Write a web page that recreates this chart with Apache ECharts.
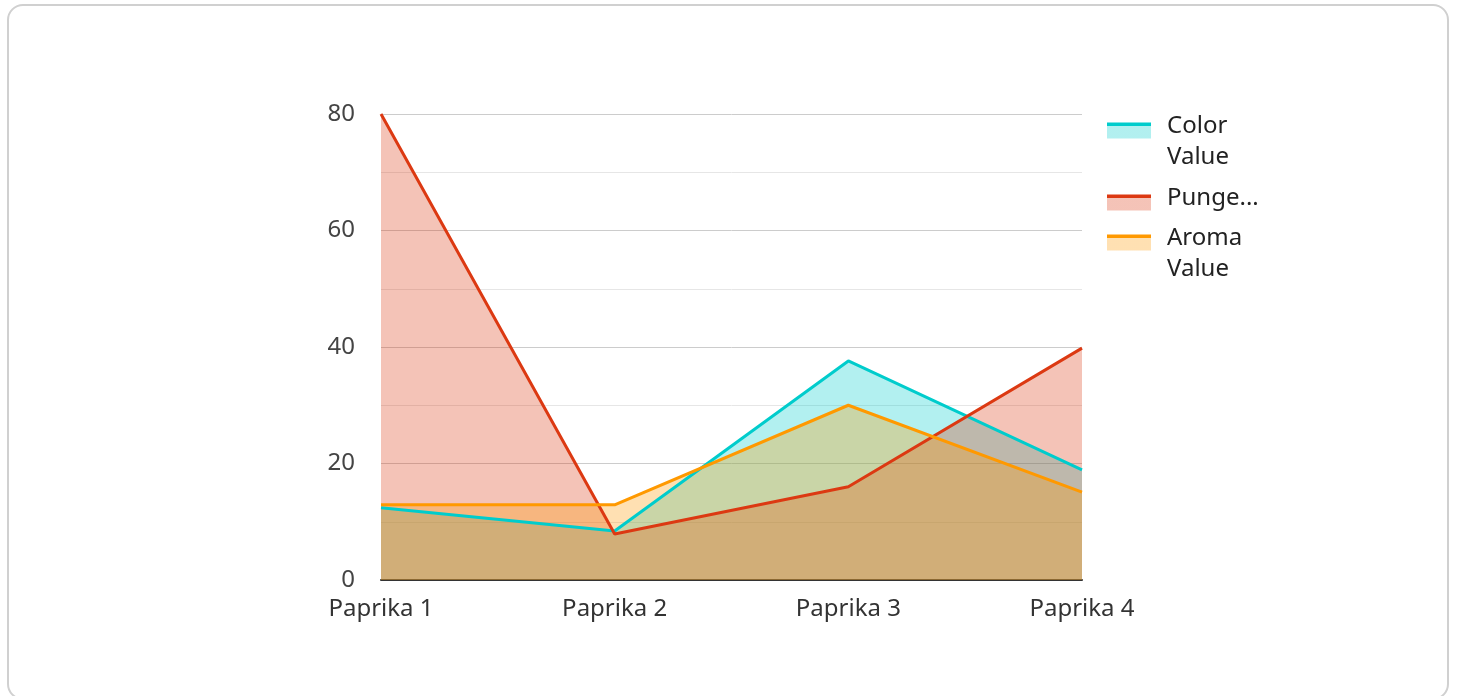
<!DOCTYPE html>
<html>
<head>
<meta charset="utf-8">
<script src="https://cdn.jsdelivr.net/npm/echarts@6/dist/echarts.min.js"></script>
<style>
html,body{margin:0;padding:0;background:#fff;}
#frame{position:absolute;left:7px;top:4px;width:1442px;height:696px;border:2px solid #d0d0d0;border-radius:16px;box-sizing:border-box;pointer-events:none;}
#chart{position:absolute;left:0;top:0;width:1458px;height:696px;}
</style>
</head>
<body>
<div id="chart"></div>
<div id="frame"></div>
<script>
const categories = ['Paprika 1', 'Paprika 2', 'Paprika 3', 'Paprika 4'];
const seriesNames = ['Color Value', 'Pungency Value', 'Aroma Value'];
const colorValue = [12.4, 8.4, 37.6, 18.9];
const pungencyValue = [80, 7.9, 16.0, 39.8];
const aromaValue = [12.9, 12.9, 30.0, 15.1];
const yTicks = [0, 20, 40, 60, 80];

const colors = ['#00CCCC', '#DC3912', '#FF9900'];
const fills = ['rgba(0,204,204,0.3)', 'rgba(220,57,18,0.3)', 'rgba(255,153,0,0.3)'];
const values = [colorValue, pungencyValue, aromaValue];
const font = "'Noto Sans', 'Open Sans', sans-serif";

function legendIcon(i) {
  return new echarts.graphic.LinearGradient(0, 0, 0, 1, [
    {offset: 0, color: colors[i]},
    {offset: 0.22, color: colors[i]},
    {offset: 0.22, color: fills[i]},
    {offset: 1, color: fills[i]}
  ]);
}

const legendTops = [88, 183, 200];
const legends = seriesNames.map((name, i) => {
  const two = i !== 1;
  return {
    left: 1107,
    top: legendTops[i],
    padding: 0,
    itemWidth: 55,
    itemHeight: 16,
    itemGap: 0,
    orient: 'vertical',
    selectedMode: false,
    icon: 'path://M0,0H44V16H0Z M55,0 M55,16',
    formatter: two ? (n => '{e| }\n' + n) : (n => n + '\n{f| }'),
    data: [{
      name: name,
      itemStyle: {color: legendIcon(i), borderWidth: 0},
      textStyle: two ? {
        width: 85, overflow: 'break'
      } : {
        width: 95, overflow: 'truncate', ellipsis: '...'
      }
    }],
    textStyle: {
      fontFamily: font, fontSize: 24, color: '#222', lineHeight: 31,
      rich: {
        e: {fontSize: 10, lineHeight: 23},
        f: {fontSize: 6, lineHeight: 8}
      }
    }
  };
});

const chart = echarts.init(document.getElementById('chart'), null, {renderer: 'canvas'});
chart.setOption({
  animation: false,
  backgroundColor: '#fff',
  legend: legends,
  grid: {left: 381, right: 376, top: 114, bottom: 116, containLabel: false},
  xAxis: {
    type: 'category',
    data: categories,
    boundaryGap: false,
    axisLine: {show: true, lineStyle: {color: '#333', width: 2}},
    axisTick: {show: false},
    axisLabel: {fontFamily: font, fontSize: 24, color: '#333', margin: 17},
    splitLine: {show: false}
  },
  yAxis: {
    type: 'value',
    min: yTicks[0],
    max: yTicks[yTicks.length - 1],
    interval: 20,
    axisLine: {show: false},
    axisTick: {show: false},
    axisLabel: {fontFamily: font, fontSize: 24, color: '#444', margin: 26, padding: [4, 0, 0, 0]},
    splitLine: {show: true, lineStyle: {color: '#cccccc', width: 1}},
    minorTick: {show: false, splitNumber: 2},
    minorSplitLine: {show: true, lineStyle: {color: '#e6e6e6', width: 1}}
  },
  series: seriesNames.map((name, i) => ({
    name: name,
    type: 'line',
    data: values[i],
    symbol: 'none',
    lineStyle: {color: colors[i], width: 3},
    itemStyle: {color: colors[i]},
    areaStyle: {color: colors[i], opacity: 0.3}
  }))
});
</script>
</body>
</html>
